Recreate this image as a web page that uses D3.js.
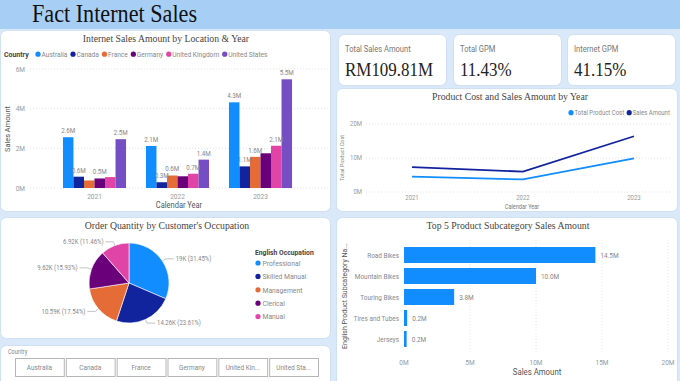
<!DOCTYPE html>
<html>
<head>
<meta charset="utf-8">
<script src="https://cdn.jsdelivr.net/npm/d3@7"></script>
<style>
  body { margin: 0; background: #d9e9f9; }
  svg { display: block; }
</style>
</head>
<body>
<svg id="dash" width="680" height="381"></svg>
<script>
// ---- data ----
const countries = ["Australia", "Canada", "France", "Germany", "United Kingdom", "United States"];
const countryColors = ["#118DFF", "#12239E", "#E66C37", "#6B007B", "#E044A7", "#744EC2"];
const years = ["2021", "2022", "2023"];
const sales2021 = [2.56, 0.57, 0.38, 0.48, 0.55, 2.46];
const sales2022 = [2.12, 0.29, 0.63, 0.59, 0.72, 1.43];
const sales2023 = [4.32, 1.09, 1.57, 1.75, 2.13, 5.48];
const labels2021 = ["2.6M", "0.6M", null, "0.5M", null, "2.5M"];
const labels2022 = ["2.1M", "0.3M", "0.6M", null, "0.7M", "1.4M"];
const labels2023 = ["4.3M", "1.1M", "1.6M", null, "2.1M", "5.5M"];
const salesTicks = [0, 2, 4, 6];

const kpiNames = ["Total Sales Amount", "Total GPM", "Internet GPM"];
const kpiValues = ["RM109.81M", "11.43%", "41.15%"];

const lineYears = ["2021", "2022", "2023"];
const productCost = [4.5, 3.7, 9.9];
const salesAmount = [7.3, 6.0, 16.4];
const lineTicks = [0, 10, 20];

const occupations = ["Professional", "Skilled Manual", "Management", "Clerical", "Manual"];
const occupationQty = [19.0, 14.26, 10.59, 9.62, 6.92];
const occupationLabels = ["19K (31.45%)", "14.26K (23.61%)", "10.59K (17.54%)", "9.62K (15.93%)", "6.92K (11.46%)"];
const occupationColors = ["#118DFF", "#12239E", "#E66C37", "#6B007B", "#E044A7"];

const subcategories = ["Road Bikes", "Mountain Bikes", "Touring Bikes", "Tires and Tubes", "Jerseys"];
const subcategorySales = [14.5, 10.0, 3.8, 0.24, 0.2];
const subcategoryTicks = [0, 5, 10, 15, 20];

const slicerLabels = ["Australia", "Canada", "France", "Germany", "United Kin...", "United Sta..."];

const serif = "'Liberation Serif', 'DejaVu Serif', serif";
const sans = "Roboto, 'Noto Sans', sans-serif";
const K = 0.87; // the screenshot is a bit narrow, text is squeezed horizontally

const svg = d3.select("#dash");

// header band
svg.append("rect").attr("x", 0).attr("y", 0).attr("width", 680).attr("height", 29).attr("fill", "#a7cff6");
svg.append("text").attr("x", 32).attr("y", 22.5)
  .style("font-family", serif).style("font-size", "25.5px").attr("fill", "#111")
  .text("Fact Internet Sales");

function panel(x, y, w, h) {
  svg.append("rect")
    .attr("x", x).attr("y", y).attr("width", w).attr("height", h)
    .attr("rx", 6).attr("fill", "#fff").attr("stroke", "#cfe0f1").attr("stroke-width", 1);
}
function title(x, y, t) {
  svg.append("text").attr("x", x).attr("y", y).attr("text-anchor", "middle")
    .style("font-family", serif).style("font-size", "11.2px").attr("fill", "#444").text(t);
}
function small(g, x, y, t, size, anchor, color) {
  return g.append("text").attr("x", x).attr("y", y).attr("text-anchor", anchor || "start")
    .style("font-family", sans).style("font-size", size + "px").attr("fill", color || "#666").text(t);
}

panel(0.5, 30.5, 330, 181);
panel(338.5, 34.5, 108, 51);
panel(453.5, 34.5, 108, 51);
panel(567.5, 34.5, 108, 51);
panel(336.5, 88.5, 341, 123);
panel(0.5, 217.5, 330, 121);
panel(336.5, 217.5, 341, 170);
panel(0.5, 345.5, 330, 42);

// ---- Internet Sales Amount by Location & Year ----
title(166, 42.5, "Internet Sales Amount by Location & Year");
const g1 = svg.append("g");
const x0 = d3.scaleBand().domain(years).range([53, 302]).paddingInner(0.24).paddingOuter(0.12);
const x1 = d3.scaleBand().domain(countries).range([0, x0.bandwidth()]);
const y1 = d3.scaleLinear().domain([0, 6]).range([188, 69]);
const color1 = d3.scaleOrdinal().domain(countries).range(countryColors);

g1.selectAll(".grid").data(salesTicks).enter().append("line")
  .attr("x1", 30).attr("x2", 328)
  .attr("y1", function(d) { return y1(d); }).attr("y2", function(d) { return y1(d); })
  .attr("stroke", "#e3e3e3").attr("stroke-dasharray", "1,2");
g1.selectAll(".ytick").data(salesTicks).enter().append("text")
  .attr("x", 25).attr("y", function(d) { return y1(d) + 2.8; }).attr("text-anchor", "end")
  .style("font-family", sans).style("font-size", "7.5px").attr("fill", "#999")
  .text(function(d) { return d + "M"; });

const yearRows = [sales2021, sales2022, sales2023];
const yearLabels = [labels2021, labels2022, labels2023];
years.forEach(function(yr, i) {
  const rows = countries.map(function(c, j) { return { c: c, v: yearRows[i][j], l: yearLabels[i][j] }; });
  const g = g1.append("g").attr("transform", "translate(" + x0(yr) + ",0)");
  g.selectAll("rect").data(rows).enter().append("rect")
    .attr("x", function(d) { return x1(d.c); })
    .attr("y", function(d) { return y1(d.v); })
    .attr("width", x1.bandwidth())
    .attr("height", function(d) { return y1(0) - y1(d.v); })
    .attr("fill", function(d) { return color1(d.c); });
  g.selectAll("text").data(rows.filter(function(d) { return d.l; })).enter().append("text")
    .attr("x", function(d) { return x1(d.c) + x1.bandwidth() / 2; })
    .attr("y", function(d) { return y1(d.v) - 4; })
    .attr("text-anchor", "middle")
    .style("font-family", sans).style("font-size", "7.2px").attr("fill", "#888")
    .text(function(d) { return d.l; });
  small(g1, x0(yr) + x0.bandwidth() / 2, 199, yr, 7.5, "middle", "#999");
});
small(g1, 179, 208.5, "Calendar Year", 8.6, "middle", "#555");
small(g1, 0, 0, "Sales Amount", 7.4, "middle", "#555").attr("class", "rot").attr("transform", "translate(10,129) rotate(-90)");

// legend
small(g1, 4, 57, "Country", 8, "start", "#444").style("font-weight", "bold");
let lx = 38;
countries.forEach(function(c, i) {
  g1.append("circle").attr("cx", lx).attr("cy", 54.2).attr("r", 2.6).attr("fill", countryColors[i]);
  const t = small(g1, lx + 3.5, 57, c, 7.6, "start", "#888");
  lx += 3.5 + t.node().getComputedTextLength() * K + 5.5;
});

// ---- KPI cards ----
[339, 454, 568].forEach(function(x, i) {
  small(svg, x + 6, 52, kpiNames[i], 8.7, "start", "#777");
  svg.append("text").attr("x", x + 6).attr("y", 76.5)
    .style("font-family", serif).style("font-size", "19.5px").attr("fill", "#222")
    .text(kpiValues[i]);
});

// ---- Product Cost and Sales Amount by Year ----
title(510, 100.5, "Product Cost and Sales Amount by Year");
const g2 = svg.append("g");
const x2 = d3.scalePoint().domain(lineYears).range([412, 634]);
const y2 = d3.scaleLinear().domain([0, 20]).range([192, 124]);
g2.selectAll(".grid").data(lineTicks).enter().append("line")
  .attr("x1", 366).attr("x2", 672)
  .attr("y1", function(d) { return y2(d); }).attr("y2", function(d) { return y2(d); })
  .attr("stroke", "#e3e3e3").attr("stroke-dasharray", "1,2");
g2.selectAll(".ytick").data(lineTicks).enter().append("text")
  .attr("x", 362).attr("y", function(d) { return y2(d) + 2.5; }).attr("text-anchor", "end")
  .style("font-family", sans).style("font-size", "6.9px").attr("fill", "#999")
  .text(function(d) { return d + "M"; });
lineYears.forEach(function(yr) { small(g2, x2(yr), 200.5, yr, 6.9, "middle", "#999"); });
small(g2, 522, 209, "Calendar Year", 6.4, "middle", "#777");
small(g2, 0, 0, "Total Product Cost", 5.6, "middle", "#888").attr("class", "rot").attr("transform", "translate(344,158) rotate(-90)");

const line = d3.line()
  .x(function(d, i) { return x2(lineYears[i]); })
  .y(function(d) { return y2(d); });
g2.append("path").datum(productCost).attr("fill", "none").attr("stroke", "#118DFF").attr("stroke-width", 1.8).attr("d", line);
g2.append("path").datum(salesAmount).attr("fill", "none").attr("stroke", "#12239E").attr("stroke-width", 1.8).attr("d", line);

g2.append("circle").attr("cx", 571).attr("cy", 112.7).attr("r", 2.6).attr("fill", "#118DFF");
const lt = small(g2, 574.5, 115.2, "Total Product Cost", 6.9, "start", "#888");
const lx2 = 574.5 + lt.node().getComputedTextLength() * K + 5;
g2.append("circle").attr("cx", lx2).attr("cy", 112.7).attr("r", 2.6).attr("fill", "#12239E");
small(g2, lx2 + 3.5, 115.2, "Sales Amount", 6.9, "start", "#888");

// ---- Order Quantity by Customer's Occupation ----
title(167, 229.5, "Order Quantity by Customer's Occupation");
const g3 = svg.append("g").attr("transform", "translate(129,283)");
const r = 40;
const pie = d3.pie().sort(null).value(function(d) { return d; });
const arc = d3.arc().innerRadius(0).outerRadius(r);
const arcs = pie(occupationQty);
g3.selectAll("path").data(arcs).enter().append("path")
  .attr("d", arc)
  .attr("fill", function(d, i) { return occupationColors[i]; })
  .attr("stroke", "#fff").attr("stroke-width", 0.6);
arcs.forEach(function(d, i) {
  const a = (d.startAngle + d.endAngle) / 2;
  const p0 = [Math.sin(a) * r, -Math.cos(a) * r];
  const p1 = [Math.sin(a) * (r + 4), -Math.cos(a) * (r + 4)];
  const right = Math.sin(a) > 0;
  const p2 = [p1[0] + (right ? 8 : -8), p1[1]];
  g3.append("polyline").attr("points", [p0, p1, p2].join(" "))
    .attr("fill", "none").attr("stroke", "#aaa").attr("stroke-width", 0.7);
  small(g3, p2[0] + (right ? 2 : -2), p2[1] + 2.3, occupationLabels[i], 6.9, right ? "start" : "end", "#888");
});
small(svg, 255, 255, "English Occupation", 7.8, "start", "#444").style("font-weight", "bold");
occupations.forEach(function(o, i) {
  const yy = 263 + i * 13.4;
  svg.append("circle").attr("cx", 258).attr("cy", yy).attr("r", 2.6).attr("fill", occupationColors[i]);
  small(svg, 262.5, yy + 2.8, o, 7.8, "start", "#888");
});

// ---- Top 5 Product Subcategory Sales Amount ----
title(508, 229.5, "Top 5 Product Subcategory Sales Amount");
const g4 = svg.append("g");
const x4 = d3.scaleLinear().domain([0, 20]).range([404, 668]);
const y4 = d3.scaleBand().domain(subcategories).range([244.5, 349.5]).paddingInner(0.24).paddingOuter(0.12);
g4.selectAll(".grid").data(subcategoryTicks.slice(1)).enter().append("line")
  .attr("x1", function(d) { return x4(d); }).attr("x2", function(d) { return x4(d); })
  .attr("y1", 240).attr("y2", 352)
  .attr("stroke", "#e6e6e6").attr("stroke-dasharray", "1,2");
g4.selectAll(".xtick").data(subcategoryTicks).enter().append("text")
  .attr("x", function(d) { return x4(d); }).attr("y", 365).attr("text-anchor", "middle")
  .style("font-family", sans).style("font-size", "7.5px").attr("fill", "#999")
  .text(function(d) { return d + "M"; });
g4.selectAll("rect").data(subcategories).enter().append("rect")
  .attr("x", x4(0))
  .attr("y", function(d) { return y4(d); })
  .attr("width", function(d, i) { return x4(subcategorySales[i]) - x4(0); })
  .attr("height", y4.bandwidth())
  .attr("fill", "#118DFF");
g4.selectAll(".cat").data(subcategories).enter().append("text")
  .attr("x", 399).attr("y", function(d) { return y4(d) + y4.bandwidth() / 2 + 2.6; })
  .attr("text-anchor", "end")
  .style("font-family", sans).style("font-size", "7.4px").attr("fill", "#888")
  .text(function(d) { return d; });
g4.selectAll(".val").data(subcategories).enter().append("text")
  .attr("x", function(d, i) { return x4(subcategorySales[i]) + 5; })
  .attr("y", function(d) { return y4(d) + y4.bandwidth() / 2 + 2.6; })
  .style("font-family", sans).style("font-size", "7.4px").attr("fill", "#888")
  .text(function(d, i) { return subcategorySales[i].toFixed(1) + "M"; });
small(g4, 537, 375.5, "Sales Amount", 9, "middle", "#555");
small(g4, 0, 0, "English Product Subcategory Na...", 7, "middle", "#555").attr("class", "rot").attr("transform", "translate(347,296) rotate(-90)");

// ---- Country slicer ----
small(svg, 8, 354.5, "Country", 6.4, "start", "#888");
const xs = d3.scaleBand().domain(slicerLabels).range([15, 318]).paddingInner(0.04);
svg.selectAll(".slicer").data(slicerLabels).enter().append("rect")
  .attr("x", function(d) { return xs(d) + 0.5; }).attr("y", 358.5)
  .attr("width", xs.bandwidth()).attr("height", 18)
  .attr("fill", "#fff").attr("stroke", "#b5b5b5").attr("stroke-width", 1);
svg.selectAll(".slicerText").data(slicerLabels).enter().append("text")
  .attr("x", function(d) { return xs(d) + xs.bandwidth() / 2; }).attr("y", 370.3)
  .attr("text-anchor", "middle")
  .style("font-family", sans).style("font-size", "7.4px").attr("fill", "#888")
  .text(function(d) { return d; });

// squeeze every horizontal text around its anchor point
svg.selectAll("text").each(function() {
  const t = d3.select(this);
  if (t.classed("rot")) return;
  const x = +t.attr("x"), y = +t.attr("y");
  t.attr("transform", "translate(" + x + "," + y + ") scale(" + K + ",1) translate(" + (-x) + "," + (-y) + ")");
});
</script>
</body>
</html>
